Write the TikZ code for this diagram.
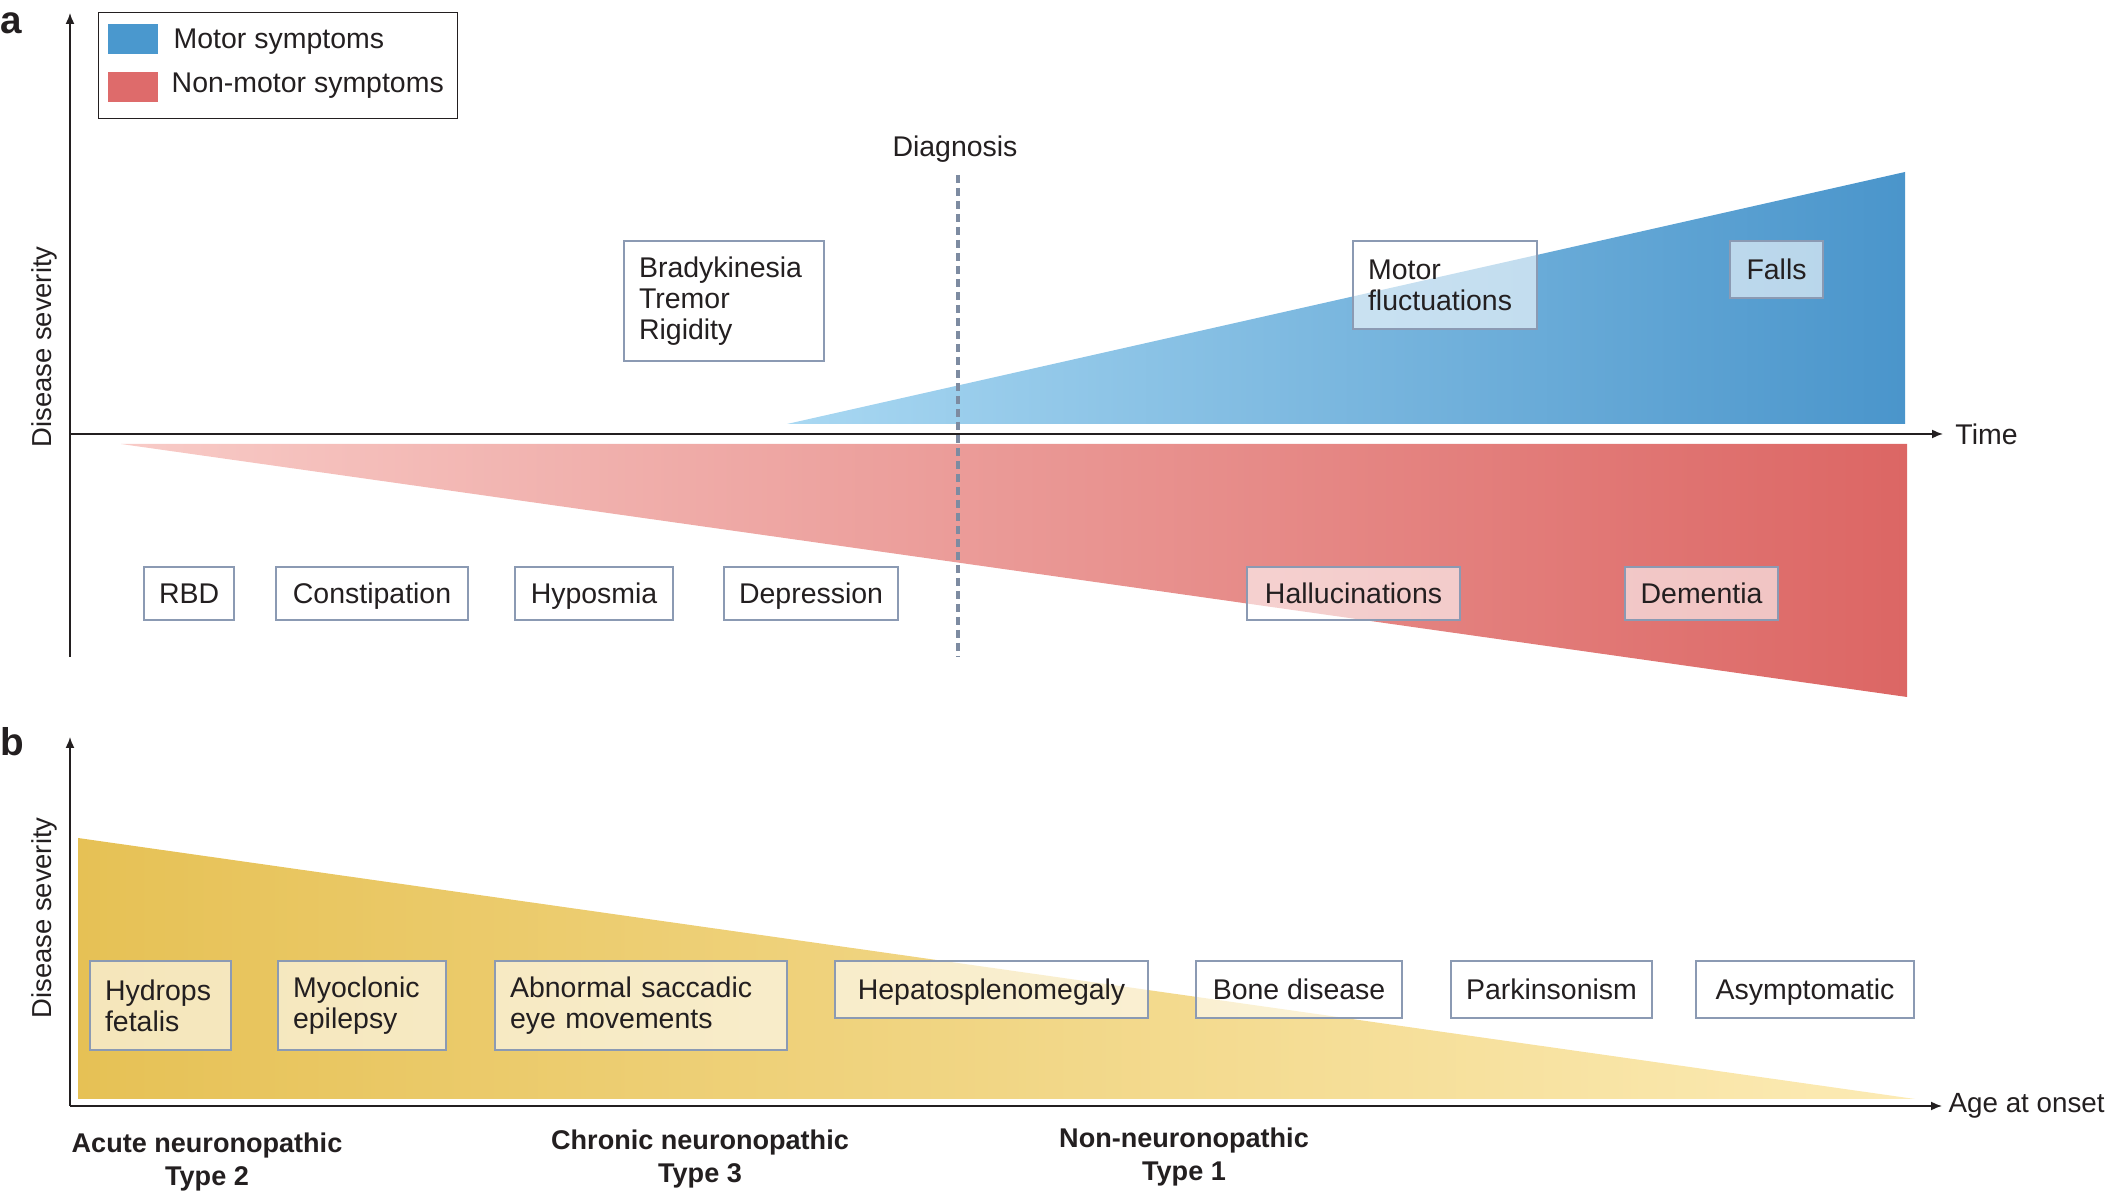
\documentclass[tikz,border=0pt]{standalone}
\usepackage{fontspec}
\setmainfont{Liberation Sans}
\usetikzlibrary{arrows.meta,positioning}
\definecolor{motor}{HTML}{4A98CE}
\definecolor{motorlt}{HTML}{A9D8F2}
\definecolor{motordk}{HTML}{4A95CB}
\definecolor{nonmotor}{HTML}{DE6B6B}
\definecolor{nonmotorlt}{HTML}{F8CBC7}
\definecolor{nonmotordk}{HTML}{DC6664}
\definecolor{gaucherdk}{HTML}{E6C155}
\definecolor{gaucherlt}{HTML}{FCEBB5}
\definecolor{boxline}{HTML}{8B9AB3}
\definecolor{ink}{HTML}{231F20}

\begin{document}
\begin{tikzpicture}[
  x=0.1mm,
  y=-0.1mm,
  every node/.style={font=\fontsize{8.1}{8.9}\selectfont, text=ink},
  axisline/.style={draw=ink, line width=0.45pt, -{Latex[length=1.1mm,width=0.9mm]}},
  diagline/.style={draw=boxline!90!black, line width=1pt, dash pattern=on 0.8mm off 0.5mm},
  symp/.style={draw=boxline, line width=0.6pt, fill=white, fill opacity=0.6, text opacity=1, anchor=north west, inner xsep=1.5mm, inner ysep=0pt},
  onel/.style={symp, align=center, text height=2.05mm, text depth=0pt},
  multl/.style={symp, align=left},
  panel/.style={font=\fontsize{11}{11}\selectfont\bfseries, inner sep=0pt},
  axlabel/.style={rotate=90, font=\fontsize{7.8}{8}\selectfont},
  subtype/.style={font=\fontsize{7.7}{9.5}\selectfont\bfseries, align=center},
  swatch/.style={minimum width=5mm, minimum height=3mm, inner sep=0pt, anchor=north west}
]
\useasboundingbox (0,0) rectangle (2110,1192);

\node[panel] (pa) at (11,23) {a};
\node[draw=ink, line width=0.4pt, minimum width=35.9mm, minimum height=10.6mm, anchor=north west, inner sep=0pt] (legend) at (98,12) {};
\node[swatch, fill=motor] (motorsw) at (107,23) {};
\node[swatch, fill=nonmotor] (nonmotorsw) at (107,71) {};
\node[anchor=base west, inner sep=0pt] (motorlab) at (173,49) {Motor symptoms};
\node[anchor=base west, inner sep=0pt] (nonmotorlab) at (171,93) {Non-motor symptoms};

\shade[left color=motorlt, right color=motordk] (787,424) -- (1905,424) -- (1905,172) -- cycle;
\shade[left color=nonmotorlt, right color=nonmotordk] (121,444) -- (1907,444) -- (1907,697) -- cycle;

\coordinate (aorig) at (70,434);
\coordinate (atop) at (70,13);
\coordinate (abot) at (70,657);
\coordinate (aend) at (1943,434);
\draw[axisline] (abot) -- (atop);
\draw[axisline] (aorig) -- (aend);
\node[anchor=west] (time) at (aend) {Time};
\node[axlabel] (sevA) at (44,347) {Disease severity};

\node (diag) at (955,149) {Diagnosis};
\coordinate (dgtop) at (958,175);
\coordinate (dgbot) at (958,657);
\draw[diagline] (dgtop) -- (dgbot);

\node[multl, text width=17mm, minimum height=12mm] (brady) at (623,240) {Bradykinesia\\Tremor\\Rigidity};
\node[multl, text width=15.4mm, minimum height=8.8mm] (motfl) at (1352,240) {Motor\\fluctuations};
\node[onel, minimum width=9.3mm, minimum height=5.7mm] (falls) at (1729,240) {Falls};

\node[onel, minimum width=8.4mm, minimum height=5.3mm] (rbd) at (143,566) {RBD};
\node[onel, minimum width=19.2mm, minimum height=5.3mm] (const) at (275,566) {Constipation};
\node[onel, minimum width=15.8mm, minimum height=5.3mm] (hypo) at (514,566) {Hyposmia};
\node[onel, minimum width=17.2mm, minimum height=5.3mm] (depr) at (723,566) {Depression};
\node[onel, minimum width=21.3mm, minimum height=5.3mm] (hall) at (1246,566) {Hallucinations};
\node[onel, minimum width=15.3mm, minimum height=5.3mm] (dem) at (1624,566) {Dementia};

\node[panel] (pb) at (12,742) {b};
\shade[left color=gaucherdk, right color=gaucherlt] (78,838) -- (78,1099) -- (1915,1099) -- cycle;
\coordinate (borig) at (70,1106);
\coordinate (btop) at (70,737);
\coordinate (bend) at (1942,1106);
\draw[axisline] (borig) -- (btop);
\draw[axisline] (borig) -- (bend);
\node[anchor=west, inner xsep=0.6mm, font=\fontsize{7.9}{8}\selectfont] (age) at (bend) {Age at onset};
\node[axlabel] (sevB) at (44,918) {Disease severity};

\node[multl, text width=11.1mm, minimum height=8.9mm] (hydr) at (89,960) {Hydrops\\fetalis};
\node[multl, text width=13.8mm, minimum height=8.9mm] (myo) at (277,960) {Myoclonic\\epilepsy};
\node[multl, text width=26.2mm, minimum height=8.9mm] (abn) at (494,960) {Abnormal saccadic\\eye movements};
\node[onel, minimum width=31.3mm, minimum height=5.7mm] (hep) at (834,960) {Hepatosplenomegaly};
\node[onel, minimum width=20.6mm, minimum height=5.7mm] (bone) at (1195,960) {Bone disease};
\node[onel, minimum width=19.8mm, minimum height=5.7mm] (park) at (1450,960) {Parkinsonism};
\node[onel, minimum width=21.8mm, minimum height=5.7mm] (asym) at (1695,960) {Asymptomatic};

\node[subtype] (type2) at (207,1162) {Acute neuronopathic\\Type 2};
\node[subtype] (type3) at (700,1159) {Chronic neuronopathic\\Type 3};
\node[subtype] (type1) at (1184,1157) {Non-neuronopathic\\Type 1};
\end{tikzpicture}
\end{document}
